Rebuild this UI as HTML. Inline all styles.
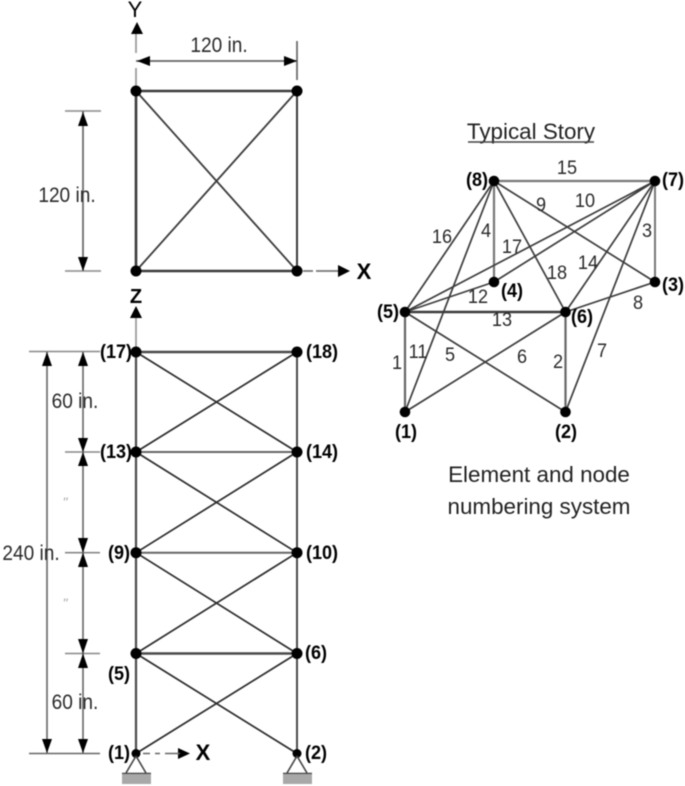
<!DOCTYPE html>
<html>
<head>
<meta charset="utf-8">
<style>
html,body{margin:0;padding:0;background:#fff;width:685px;height:786px;overflow:hidden}
svg{display:block;filter:blur(0.45px)}
text{font-family:"Liberation Sans",sans-serif;transform-box:fill-box;transform-origin:center}
.d{font-size:21px;fill:#2a2a2a;text-anchor:middle;transform:scaleX(.91)}
.n{font-size:19px;font-weight:bold;fill:#000;text-anchor:middle;transform:scaleX(.95)}
.a{font-size:22px;font-weight:bold;fill:#000;text-anchor:middle}
.e{font-size:19.500px;fill:#2a2a2a;text-anchor:middle;transform:scaleX(.93)}
.t{font-size:22.400px;fill:#222;text-anchor:middle}
</style>
</head>
<body>
<svg width="685" height="786" viewBox="0 0 685 786" xmlns="http://www.w3.org/2000/svg">
<rect width="685" height="786" fill="#fff"/>

<!-- plan view -->
<g stroke="#3c3c3c" fill="none">
<path d="M136 91H297M136 271H297" stroke-width="2.4"/>
<path d="M136 91V271" stroke-width="2.6"/>
<path d="M297 91V271" stroke-width="2"/>
<path d="M136 91L297 271M297 91L136 271" stroke-width="1.8"/>
</g>
<g stroke="#999" fill="none" stroke-width="1.7">
<path d="M136 34V53M136 68V90"/>
<path d="M136 61H297" stroke="#666"/>
<path d="M297 41V80" stroke="#666"/>
<path d="M65 111H101M65 271H101"/>
<path d="M83 111V271" stroke="#666"/>
<path d="M303 271H313M316 271H339" stroke="#777"/>
<path d="M136 318V351"/>
</g>
<g fill="#000">
<path d="M137 22L143 34H131Z"/>
<path d="M137 61L150 56V66Z"/>
<path d="M297 61L284 56V66Z"/>
<path d="M83 112L78 126H88Z"/>
<path d="M83 271L78 257H88Z"/>
<path d="M350 271L338 265V277Z"/>
<path d="M136 306L142 318H130Z"/>
<path d="M190 753.500L178 748V759Z"/>
<circle cx="136" cy="91" r="5.500"/><circle cx="297" cy="91" r="5.500"/>
<circle cx="136" cy="271" r="5.500"/><circle cx="297" cy="271" r="5.500"/>
</g>
<text class="a" x="135" y="17" style="font-weight:normal">Y</text>
<text class="a" x="364" y="279">X</text>
<text class="a" x="136" y="303" style="font-size:20px">Z</text>
<text class="d" x="219" y="52">120 in.</text>
<text class="d" x="67" y="202">120 in.</text>

<!-- elevation -->
<g stroke="#4a4a4a" fill="none">
<path d="M136 352V753" stroke-width="2.200"/>
<path d="M297 352V753" stroke-width="2"/>
<path d="M136 352H297M136 653.500H297" stroke-width="2.400"/>
<path d="M136 452H297M136 552.700H297" stroke-width="2" stroke="#666"/>
</g>
<g stroke="#2c2c2c" fill="none" stroke-width="1.700">
<path d="M136 352L297 452M297 352L136 452"/>
<path d="M136 452L297 552.700M297 452L136 552.700"/>
<path d="M136 552.700L297 653.500M297 552.700L136 653.500"/>
<path d="M136 653.500L297 753.500M297 653.500L136 753.500"/>
</g>
<g stroke="#888" fill="none" stroke-width="1.600">
<path d="M29 351.500H100"/>
<path d="M65 452H100M65 552.700H100M65 653.500H100"/>
<path d="M29 753.500H100" stroke="#666"/>
<path d="M47 352V753" stroke="#666"/>
<path d="M83 352V753" stroke="#666"/>
<path d="M143 753.500H150M155 753.500H160M165 753.500H180" stroke="#666"/>
</g>
<g fill="#000">
<path d="M47 352L42 366H52Z"/><path d="M47 753L42 739H52Z"/>
<path d="M83 352L78 366H88Z"/>
<path d="M83 452L78 438H88Z"/><path d="M83 452L78 466H88Z"/>
<path d="M83 552.700L78 538H88Z"/><path d="M83 552.700L78 567H88Z"/>
<path d="M83 653.500L78 639H88Z"/><path d="M83 653.500L78 668H88Z"/>
<path d="M83 753L78 739H88Z"/>
<circle cx="136" cy="352" r="5.500"/><circle cx="297" cy="352" r="5.500"/>
<circle cx="136" cy="452" r="5.500"/><circle cx="297" cy="452" r="5.500"/>
<circle cx="136" cy="552.700" r="5.500"/><circle cx="297" cy="552.700" r="5.500"/>
<circle cx="136" cy="653.500" r="5.500"/><circle cx="297" cy="653.500" r="5.500"/>
<circle cx="136" cy="753.500" r="4.500"/><circle cx="297" cy="753.500" r="4.500"/>
</g>
<g fill="none" stroke="#444" stroke-width="1.600">
<path d="M136 756L126 773M136 756L146 773M297 756L287 773M297 756L307 773"/>
<path d="M122 773.500H151M283 773.500H312"/>
</g>
<rect x="122" y="774" width="29" height="10" fill="#a8a8a8"/>
<rect x="283" y="774" width="29" height="10" fill="#a8a8a8"/>

<text class="n" x="116" y="358">(17)</text>
<text class="n" x="116" y="458">(13)</text>
<text class="n" x="119" y="559">(9)</text>
<text class="n" x="119" y="680">(5)</text>
<text class="n" x="119" y="759">(1)</text>
<text class="n" x="322" y="358">(18)</text>
<text class="n" x="322" y="458">(14)</text>
<text class="n" x="322" y="559">(10)</text>
<text class="n" x="316" y="659">(6)</text>
<text class="n" x="316" y="759">(2)</text>
<text class="a" x="203" y="760">X</text>
<text class="d" x="75" y="408">60 in.</text>
<text class="d" x="31" y="560">240 in.</text>
<text class="d" x="75" y="709">60 in.</text>
<text x="65" y="507" font-size="14" fill="#aaa" font-style="italic" text-anchor="middle">"</text>
<text x="65" y="608" font-size="14" fill="#aaa" font-style="italic" text-anchor="middle">"</text>

<!-- typical story -->
<g stroke="#3c3c3c" fill="none" stroke-width="1.700">
<path d="M405 312V412" stroke="#666" stroke-width="2.200"/>
<path d="M565.500 312V412" stroke="#666" stroke-width="2.200"/>
<path d="M655 181V282" stroke="#777" stroke-width="2"/>
<path d="M494 181V282" stroke="#777" stroke-width="2.200"/>
<path d="M405 312L565.500 412"/>
<path d="M405 412L565.500 312"/>
<path d="M565.500 412L655 181"/>
<path d="M565.500 312L655 282"/>
<path d="M494 181L655 282"/>
<path d="M494 282L655 181"/>
<path d="M405 412L494 181"/>
<path d="M405 312L494 282"/>
<path d="M405 312H565.500" stroke-width="2.400"/>
<path d="M565.500 312L655 181"/>
<path d="M494 181H655" stroke="#777" stroke-width="2.200"/>
<path d="M405 312L494 181"/>
<path d="M405 312L655 181"/>
<path d="M494 181L565.500 312"/>
</g>
<g fill="#000">
<circle cx="494" cy="181" r="5.300"/><circle cx="655" cy="181" r="5.300"/>
<circle cx="655" cy="282" r="5.300"/><circle cx="494" cy="282" r="5.300"/>
<circle cx="405" cy="312" r="5.300"/><circle cx="565.500" cy="312" r="5.300"/>
<circle cx="405" cy="412" r="5.300"/><circle cx="565.500" cy="412" r="5.300"/>
</g>
<text class="n" x="477" y="186">(8)</text>
<text class="n" x="673" y="186">(7)</text>
<text class="n" x="673" y="291">(3)</text>
<text class="n" x="512" y="297">(4)</text>
<text class="n" x="388" y="318">(5)</text>
<text class="n" x="582" y="323">(6)</text>
<text class="n" x="406" y="438">(1)</text>
<text class="n" x="566" y="438">(2)</text>

<text class="e" x="567" y="174">15</text>
<text class="e" x="541" y="211">9</text>
<text class="e" x="585" y="207">10</text>
<text class="e" x="647" y="237">3</text>
<text class="e" x="486" y="237">4</text>
<text class="e" x="442" y="243">16</text>
<text class="e" x="512" y="253">17</text>
<text class="e" x="557" y="279">18</text>
<text class="e" x="588" y="269">14</text>
<text class="e" x="478" y="303">12</text>
<text class="e" x="638" y="309">8</text>
<text class="e" x="502" y="326">13</text>
<text class="e" x="418" y="358">11</text>
<text class="e" x="450" y="361">5</text>
<text class="e" x="522" y="363">6</text>
<text class="e" x="397" y="369">1</text>
<text class="e" x="558" y="368">2</text>
<text class="e" x="602" y="357">7</text>

<text class="t" x="531" y="139">Typical Story</text>
<path d="M468 142H594" stroke="#444" stroke-width="1.600"/>
<text class="t" x="539" y="482">Element and node</text>
<text class="t" x="539" y="514">numbering system</text>
</svg>
</body>
</html>
